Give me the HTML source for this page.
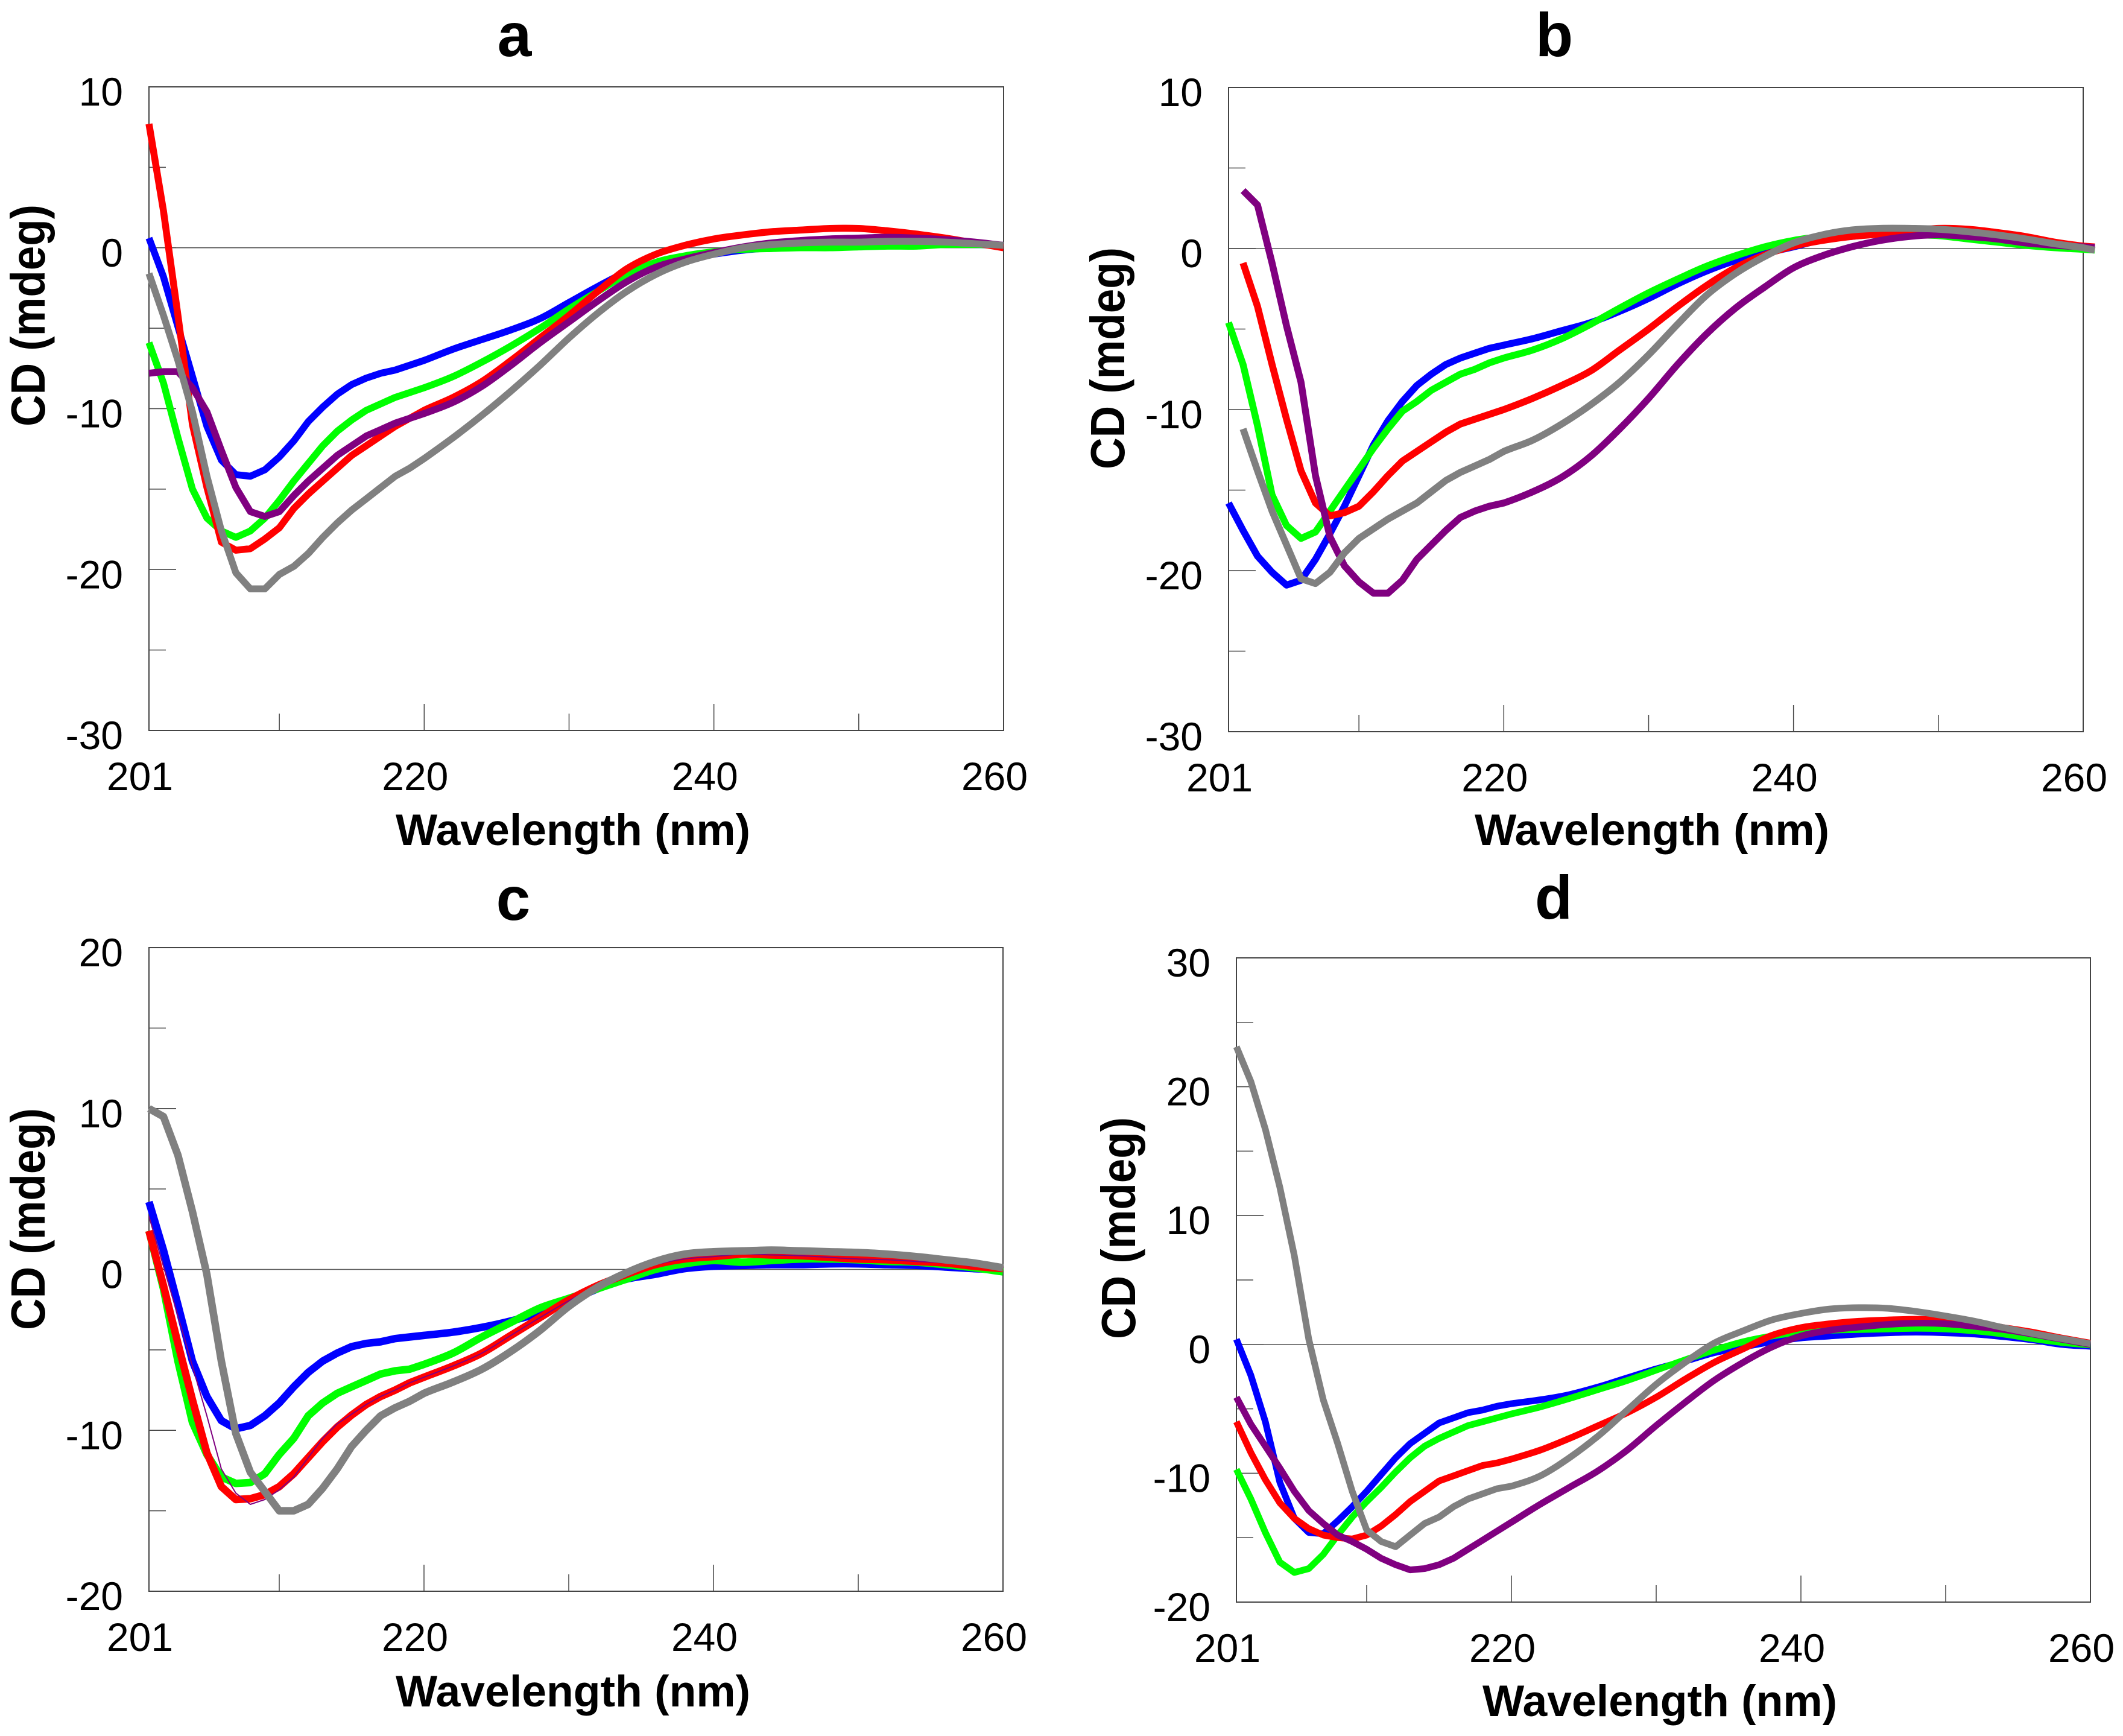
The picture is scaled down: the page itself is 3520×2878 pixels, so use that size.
<!DOCTYPE html>
<html lang="en">
<head>
<meta charset="utf-8">
<title>CD spectra panels</title>
<style>
html,body{margin:0;padding:0;background:#fff;width:3520px;height:2878px;overflow:hidden}
svg{display:block}
text{font-family:"Liberation Sans",sans-serif;fill:#000}
.tick-label{font-size:66px}
.panel-title{font-size:102px;font-weight:bold;text-anchor:middle}
.x-title,.y-title{font-weight:bold;text-anchor:middle}
.x-title{font-size:73px}
.y-title{font-size:80px}
</style>
</head>
<body>
<svg id="figure" xmlns="http://www.w3.org/2000/svg" width="3520" height="2878" viewBox="0 0 3520 2878">
  <rect x="0" y="0" width="3520" height="2878" fill="#fff"/>
  <text class="panel-title" x="853" y="93">a</text>
  <text class="panel-title" x="2577" y="93">b</text>
  <text class="panel-title" x="851" y="1525">c</text>
  <text class="panel-title" x="2576" y="1523">d</text>
  <text class="x-title" x="950" y="1401" textLength="588" lengthAdjust="spacingAndGlyphs">Wavelength (nm)</text>
  <text class="x-title" x="2739" y="1401" textLength="588" lengthAdjust="spacingAndGlyphs">Wavelength (nm)</text>
  <text class="x-title" x="950" y="2829" textLength="588" lengthAdjust="spacingAndGlyphs">Wavelength (nm)</text>
  <text class="x-title" x="2752" y="2845" textLength="588" lengthAdjust="spacingAndGlyphs">Wavelength (nm)</text>
  <text class="y-title" transform="translate(74 523) rotate(-90)" textLength="368" lengthAdjust="spacingAndGlyphs">CD (mdeg)</text>
  <text class="y-title" transform="translate(1864 594) rotate(-90)" textLength="368" lengthAdjust="spacingAndGlyphs">CD (mdeg)</text>
  <text class="y-title" transform="translate(74 2021) rotate(-90)" textLength="368" lengthAdjust="spacingAndGlyphs">CD (mdeg)</text>
  <text class="y-title" transform="translate(1882 2036) rotate(-90)" textLength="368" lengthAdjust="spacingAndGlyphs">CD (mdeg)</text>
</svg>
<script>
const wavelengths = [201,202,203,204,205,206,207,208,209,210,211,212,213,214,215,216,217,218,219,220,222,224,226,228,230,232,234,236,238,240,242,244,246,248,250,252,254,256,258,260];
const wavelengthsB = [201,202,203,204,205,206,207,208,209,210,211,212,213,214,215,216,217,218,219,220,222,224,226,228,230,232,234,236,238,240,242,244,246,248,250,252,254,256,258,260,260.8];
const xTickLabels = [201,220,240,260];
const xTickValues = [210,220,230,240,250];
const yTicksA = [10,0,-10,-20,-30];
const yTicksB = [10,0,-10,-20,-30];
const yTicksC = [20,10,0,-10,-20];
const yTicksD = [30,20,10,0,-10,-20];
const seriesNames = ['blue','green','red','purple','gray'];

const aBlue = [0.6,-1.8,-4.9,-8,-11.1,-13.2,-14.1,-14.2,-13.8,-13,-12,-10.8,-9.9,-9.1,-8.5,-8.1,-7.8,-7.6,-7.3,-7,-6.3,-5.7,-5.1,-4.4,-3.4,-2.4,-1.5,-1,-0.7,-0.4,-0.15,0,0.1,0.15,0.25,0.3,0.35,0.3,0.2,0.15];
const aGreen = [-5.9,-8.4,-11.8,-15,-16.8,-17.6,-18,-17.6,-16.8,-15.7,-14.5,-13.4,-12.3,-11.4,-10.7,-10.1,-9.7,-9.3,-9,-8.7,-8,-7.1,-6.1,-5,-3.8,-2.7,-1.65,-0.9,-0.5,-0.25,-0.1,-0.05,0,0,0.05,0.1,0.1,0.2,0.2,0.15];
const aRed = [7.7,2.3,-4.2,-11,-14.9,-18.3,-18.8,-18.7,-18.1,-17.4,-16.2,-15.3,-14.5,-13.7,-12.9,-12.3,-11.7,-11.1,-10.6,-10.1,-9.3,-8.3,-7,-5.6,-4.2,-2.7,-1.3,-0.4,0.15,0.55,0.8,1,1.1,1.2,1.2,1.05,0.85,0.6,0.3,0];
const aPurple = [-7.8,-7.7,-7.7,-8.7,-10.2,-12.6,-14.9,-16.4,-16.7,-16.4,-15.4,-14.5,-13.7,-12.9,-12.3,-11.7,-11.3,-10.9,-10.6,-10.3,-9.6,-8.6,-7.3,-5.9,-4.6,-3.3,-2.1,-1.2,-0.7,-0.3,0.05,0.3,0.45,0.55,0.6,0.65,0.6,0.5,0.35,0.15];
const aGray = [-1.6,-4.2,-7,-10.2,-14.2,-17.6,-20.2,-21.2,-21.2,-20.3,-19.8,-19,-18,-17.1,-16.3,-15.6,-14.9,-14.2,-13.7,-13.1,-11.8,-10.4,-8.9,-7.3,-5.6,-4.05,-2.7,-1.65,-0.9,-0.4,0,0.2,0.3,0.35,0.35,0.4,0.4,0.35,0.25,0.15];

const bBlue = [-15.8,-17.5,-19.1,-20.1,-20.9,-20.6,-19.3,-17.7,-16,-14.1,-12.2,-10.7,-9.5,-8.5,-7.8,-7.2,-6.8,-6.5,-6.2,-6,-5.6,-5.1,-4.6,-3.9,-3.1,-2.2,-1.4,-0.75,-0.3,0.1,0.55,0.75,0.9,0.95,0.85,0.75,0.6,0.35,0.15,0.05,0];
const bGreen = [-4.6,-7.2,-11,-15.3,-17.2,-18,-17.6,-16.3,-15,-13.7,-12.4,-11.2,-10.1,-9.5,-8.8,-8.3,-7.8,-7.5,-7.1,-6.8,-6.3,-5.6,-4.7,-3.7,-2.75,-1.9,-1.1,-0.45,0.1,0.5,0.75,0.9,0.9,0.85,0.8,0.6,0.4,0.2,0.05,-0.05,-0.1];
const bRed = [null,-0.9,-3.6,-7.2,-10.6,-13.8,-15.8,-16.6,-16.4,-16,-15.1,-14.1,-13.2,-12.6,-12,-11.4,-10.9,-10.6,-10.3,-10,-9.3,-8.5,-7.6,-6.3,-5,-3.6,-2.3,-1.2,-0.4,0.15,0.5,0.75,0.9,1.1,1.25,1.2,1,0.75,0.4,0.15,0.1];
const bPurple = [null,3.6,2.7,-0.9,-4.8,-8.3,-14.1,-17.9,-19.7,-20.7,-21.4,-21.4,-20.6,-19.3,-18.4,-17.5,-16.7,-16.3,-16,-15.8,-15.1,-14.2,-12.9,-11.2,-9.3,-7.2,-5.3,-3.7,-2.4,-1.2,-0.45,0.1,0.5,0.75,0.85,0.75,0.6,0.35,0.2,0.1,0.05];
const bGray = [null,-11.2,-13.8,-16.3,-18.4,-20.5,-20.8,-20.1,-18.9,-18,-17.4,-16.8,-16.3,-15.8,-15.1,-14.4,-13.9,-13.5,-13.1,-12.6,-11.9,-10.9,-9.7,-8.3,-6.6,-4.7,-2.9,-1.55,-0.5,0.35,0.85,1.15,1.25,1.25,1.2,1.05,0.85,0.6,0.3,0.05,-0.1];

const cBlue = [4.2,1.2,-2.2,-5.7,-7.9,-9.4,-9.9,-9.7,-9.1,-8.3,-7.3,-6.4,-5.7,-5.2,-4.8,-4.6,-4.5,-4.3,-4.2,-4.1,-3.9,-3.6,-3.2,-2.7,-2,-1.2,-0.6,-0.3,0.05,0.2,0.25,0.3,0.3,0.35,0.35,0.3,0.25,0.15,0.05,0];
const cGreen = [2.4,-1.2,-5.7,-9.5,-11.5,-12.9,-13.3,-13.25,-12.7,-11.5,-10.5,-9.1,-8.3,-7.7,-7.3,-6.9,-6.5,-6.3,-6.2,-5.9,-5.2,-4.2,-3.3,-2.4,-1.8,-1.2,-0.6,0,0.35,0.55,0.45,0.55,0.65,0.65,0.6,0.5,0.45,0.3,0.1,-0.15];
const cRed = [2.4,-1,-4.6,-8.1,-11.4,-13.5,-14.3,-14.25,-14,-13.5,-12.7,-11.7,-10.7,-9.8,-9.05,-8.4,-7.9,-7.5,-7.05,-6.7,-6,-5.2,-4.1,-3,-1.9,-1,-0.3,0.3,0.65,0.8,0.95,0.9,0.85,0.75,0.65,0.6,0.5,0.4,0.2,0.05];
const cPurple = [3.3,0.2,-2.9,-6,-9.1,-12.4,-13.9,-14.6,-14.3,-13.7,-12.9,-11.7,-10.5,-9.6,-9,-8.4,-7.9,-7.5,-7.05,-6.7,-6,-5.2,-4.1,-3,-1.95,-1,-0.3,0.3,0.65,0.8,0.95,0.9,0.85,0.75,0.65,0.6,0.5,0.4,0.2,0.05];
const cGray = [10,9.5,7.1,3.6,-0.3,-5.7,-10.2,-12.6,-13.8,-15,-15,-14.6,-13.6,-12.4,-11,-10,-9.1,-8.6,-8.2,-7.7,-7,-6.2,-5.1,-3.8,-2.3,-1.1,-0.2,0.5,0.95,1.1,1.15,1.2,1.15,1.1,1.05,0.95,0.8,0.6,0.4,0.1];

const dBlue = [0.4,-2.4,-6,-10.7,-13.5,-14.6,-14.7,-13.7,-12.6,-11.4,-10.1,-8.8,-7.7,-6.9,-6.1,-5.7,-5.3,-5.1,-4.8,-4.6,-4.3,-3.9,-3.3,-2.6,-1.9,-1.3,-0.65,-0.2,0.2,0.5,0.65,0.8,0.9,0.95,0.9,0.8,0.6,0.35,0,-0.15];
const dGreen = [-9.7,-12,-14.6,-16.9,-17.7,-17.4,-16.3,-14.8,-13.4,-12.2,-11.1,-9.9,-8.8,-7.9,-7.3,-6.8,-6.3,-6,-5.7,-5.4,-4.85,-4.2,-3.5,-2.8,-2,-1.2,-0.45,0.2,0.65,0.95,1.1,1.15,1.2,1.25,1.2,1.05,0.8,0.45,0.15,-0.05];
const dRed = [-6,-8.4,-10.5,-12.3,-13.5,-14.3,-14.8,-15,-15.1,-14.8,-14.1,-13.2,-12.2,-11.4,-10.6,-10.2,-9.8,-9.4,-9.2,-8.9,-8.2,-7.3,-6.3,-5.3,-4.1,-2.7,-1.4,-0.35,0.7,1.3,1.6,1.8,1.9,1.95,1.85,1.65,1.3,0.95,0.5,0.1];
const dPurple = [-4.1,-6.2,-7.9,-9.6,-11.4,-12.9,-13.9,-14.8,-15.3,-15.9,-16.6,-17.1,-17.5,-17.4,-17.1,-16.6,-15.9,-15.2,-14.5,-13.8,-12.4,-11.1,-9.8,-8.2,-6.3,-4.5,-2.8,-1.4,-0.2,0.65,1.1,1.35,1.55,1.65,1.6,1.4,1.15,0.8,0.4,0];
const dGray = [23.1,20.4,16.7,12.2,6.9,0.4,-4.3,-7.7,-11.4,-14.4,-15.3,-15.7,-14.8,-13.9,-13.4,-12.6,-12,-11.6,-11.2,-11,-10.2,-8.8,-7.1,-5.1,-3.1,-1.4,0.1,1.05,1.9,2.4,2.75,2.85,2.8,2.55,2.2,1.8,1.3,0.85,0.45,0.05];

const NS = 'http://www.w3.org/2000/svg';
const svg = document.getElementById('figure');
const lineColors = {blue:'#0000ff', green:'#00ff00', red:'#ff0000', purple:'#800080', gray:'#808080'};

function add(parent, tag, attrs) {
  const el = document.createElementNS(NS, tag);
  for (const k in attrs) el.setAttribute(k, attrs[k]);
  parent.appendChild(el);
  return el;
}

function linePath(xs, ys) {
  const pts = [];
  ys.forEach((v, j) => { if (v !== null) pts.push([xs[j], v]); });
  const slope = i => {
    const a = pts[Math.max(0, i - 1)];
    const b = pts[Math.min(pts.length - 1, i + 1)];
    return (b[1] - a[1]) / (b[0] - a[0]);
  };
  let d = 'M' + pts[0][0].toFixed(1) + ' ' + pts[0][1].toFixed(1);
  for (let i = 1; i < pts.length; i++) {
    const p0 = pts[i - 1];
    const p1 = pts[i];
    const dx = p1[0] - p0[0];
    if (dx > 30) {
      const c1y = p0[1] + slope(i - 1) * dx / 3;
      const c2y = p1[1] - slope(i) * dx / 3;
      d += 'C' + (p0[0] + dx / 3).toFixed(1) + ' ' + c1y.toFixed(1) + ' ' + (p1[0] - dx / 3).toFixed(1) + ' ' + c2y.toFixed(1) + ' ' + p1[0].toFixed(1) + ' ' + p1[1].toFixed(1);
    } else {
      d += 'L' + p1[0].toFixed(1) + ' ' + p1[1].toFixed(1);
    }
  }
  return d;
}

function drawPanel(p) {
  const g = add(svg, 'g', {});
  
  
  const xScale = v => p.left + (v - 201) * (p.right - p.left) / 59;
  const yScale = v => p.top + (p.yMax - v) * (p.bottom - p.top) / (p.yMax - p.yMin);

  const frame = add(g, 'rect', {x:p.left, y:p.top, width:p.right - p.left, height:p.bottom - p.top, fill:'none', stroke:'#444', 'stroke-width':2});
  
  

  const zero = add(g, 'line', {x1:p.left, x2:p.right, y1:yScale(0), y2:yScale(0), stroke:'#555', 'stroke-width':1.5});
  
  

  for (let v = p.yMin; v <= p.yMax; v += 5) {
    const major = v % 10 === 0 && !(p.shortTicks && p.shortTicks.includes(v));
    const t = add(g, 'line', {x1:p.left, x2:p.left + (major ? 45 : 28), y1:yScale(v), y2:yScale(v), stroke:'#444', 'stroke-width':1.5});
    
    
  }
  xTickValues.forEach(v => {
    const major = v % 20 === 0;
    const t = add(g, 'line', {x1:xScale(v), x2:xScale(v), y1:p.bottom, y2:p.bottom - (major ? 44 : 28), stroke:'#444', 'stroke-width':1.5});
    
    
  });

  p.yTicks.forEach(v => {
    const t = add(g, 'text', {class:'tick-label', x:p.left - 43, y:yScale(v) + 31, 'text-anchor':'end'});
    t.textContent = String(v);
    
    
  });
  xTickLabels.forEach(v => {
    const t = add(g, 'text', {class:'tick-label', x:xScale(v) - 15, y:p.bottom + 99, 'text-anchor':'middle'});
    t.textContent = String(v);
    
    
  });

  seriesNames.forEach((name, i) => {
    const values = p.series[i];
    const px = p.xs.map(xScale);
    const py = values.map(v => v === null ? null : yScale(v));
    const width = (p.widths && p.widths[i]) || p.lineWidth;
    const path = add(g, 'path', {d:linePath(px, py), fill:'none', stroke:lineColors[name], 'stroke-width':width, 'stroke-linejoin':'round'});
    
    
  });
}

drawPanel({id:'a', left:247, right:1664, top:144, bottom:1211, yMax:10, yMin:-30, yTicks:yTicksA, xs:wavelengths, lineWidth:11.5, series:[aBlue,aGreen,aRed,aPurple,aGray]});
drawPanel({id:'b', left:2037, right:3454, top:145, bottom:1213, yMax:10, yMin:-30, yTicks:yTicksB, xs:wavelengthsB, lineWidth:11.5, series:[bBlue,bGreen,bRed,bPurple,bGray]});
drawPanel({id:'c', left:247, right:1663, top:1571, bottom:2638, yMax:20, yMin:-20, yTicks:yTicksC, xs:wavelengths, lineWidth:12.5, widths:[0,0,0,2,0], series:[cBlue,cGreen,cRed,cPurple,cGray]});
drawPanel({id:'d', left:2050, right:3466, top:1588, bottom:2656, yMax:30, yMin:-20, yTicks:yTicksD, xs:wavelengths, lineWidth:11, shortTicks:[20], series:[dBlue,dGreen,dRed,dPurple,dGray]});
</script>
</body>
</html>
